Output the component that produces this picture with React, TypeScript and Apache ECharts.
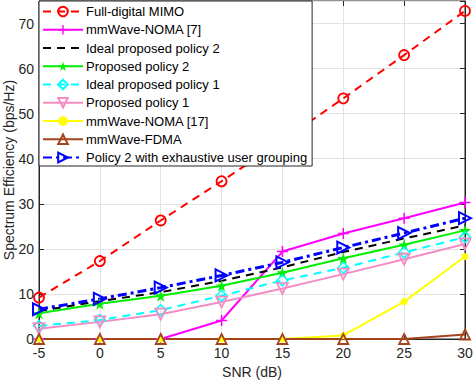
import React, { useEffect, useRef } from "react";
import * as echarts from "echarts";

const snr = [-5, 0, 5, 10, 15, 20, 25, 30];
const fullDigital = [9.2, 17.3, 26.3, 35.0, 44.0, 53.4, 63.0, 72.8];
const noma7 = [0, 0, 0, 4.1, 19.4, 23.4, 26.8, 30.3];
const idealP2 = [6.2, 8.4, 10.4, 12.9, 15.9, 19.3, 22.3, 25.2];
const propP2 = [5.7, 7.8, 9.6, 11.8, 14.7, 17.9, 20.9, 24.1];
const idealP1 = [2.9, 4.2, 6.4, 9.6, 13.0, 15.8, 19.2, 22.6];
const propP1 = [2.3, 3.8, 5.5, 8.2, 11.2, 14.4, 17.7, 21.1];
const noma17 = [0, 0, 0, 0, 0, 0.8, 8.3, 18.3];
const fdma = [0, 0, 0, 0, 0, 0, 0, 1.0];
const exhaustive = [6.6, 8.9, 11.4, 14.1, 17.0, 20.3, 23.5, 26.8];

const names = [
  "Full-digital MIMO",
  "mmWave-NOMA [7]",
  "Ideal proposed policy 2",
  "Proposed policy 2",
  "Ideal proposed policy 1",
  "Proposed policy 1",
  "mmWave-NOMA [17]",
  "mmWave-FDMA",
  "Policy 2 with exhaustive user grouping",
];

const STAR =
  "path://M50,0 L61,35 L98,35 L68,57 L79,91 L50,70 L21,91 L32,57 L2,35 L39,35 Z";
const PLUS = "path://M4.3,0 H5.7 V4.3 H10 V5.7 H5.7 V10 H4.3 V5.7 H0 V4.3 H4.3 Z";

export default function App() {
  const ref = useRef<HTMLDivElement>(null);
  useEffect(() => {
    if (!ref.current) return;
    const chart = echarts.init(ref.current, null, { renderer: "svg" });
    const pts = (arr: number[]) => snr.map((x, i) => [x, arr[i]]);
    const hollow = (c: string, w = 1.5) => ({
      color: "rgba(255,255,255,0)",
      borderColor: c,
      borderWidth: w,
    });
    const mk = (
      name: string,
      data: number[],
      color: string,
      lineType: any,
      symbol: string,
      symbolSize: number,
      itemStyle: any,
      extra: any = {}
    ) => ({
      name,
      type: "line",
      data: pts(data),
      symbol,
      symbolSize,
      lineStyle: { color, width: 2, type: lineType },
      itemStyle,
      z: 2,
      ...extra,
    });
    const series = [
      mk(names[0], fullDigital, "#ff0000", [8, 6], "circle", 10, hollow("#ff0000", 1.8)),
      mk(names[1], noma7, "#ff00ff", "solid", PLUS, 11, { color: "#ff00ff" }),
      mk(names[2], idealP2, "#000000", [8, 6], "circle", 1, {
        color: "rgba(0,0,0,0)",
        borderColor: "rgba(0,0,0,0)",
        borderWidth: 0,
      }, { showSymbol: false }),
      mk(names[3], propP2, "#00ee00", "solid", STAR, 12, { color: "#00ee00" }),
      mk(names[4], idealP1, "#00ffff", [8, 6], "diamond", 11, hollow("#00ffff", 1.5)),
      mk(names[5], propP1, "#f38dc4", "solid", "triangle", 11, hollow("#f38dc4", 1.8), {
        symbolRotate: 180,
      }),
      mk(names[6], noma17, "#ffff00", "solid", "circle", 7, { color: "#ffff00" }),
      mk(names[7], fdma, "#a5441c", "solid", "triangle", 10, {
        color: "rgba(255,255,255,0)",
        borderColor: "#a5441c",
        borderWidth: 1.8,
      }),
      mk(names[8], exhaustive, "#0000ff", [9, 4, 3, 4], "triangle", 12, hollow("#0000ff", 2), {
        symbolRotate: -90,
        lineStyle: { color: "#0000ff", width: 3, type: [9, 4, 3, 4] },
      }),
    ];
    const axisColor = "#262626";
    const font = "'Liberation Sans', Arial, Helvetica, sans-serif";
    const yBase = { type: "value", min: 0, max: 75, interval: 10 };
    chart.setOption({
      animation: false,
      textStyle: { fontFamily: font },
      grid: {
        left: 39,
        right: 9,
        top: 1,
        bottom: 41,
        containLabel: false,
        outerBoundsMode: "none",
        show: true,
        borderColor: axisColor,
        borderWidth: 1,
        backgroundColor: "#fff",
      },
      legend: {
        data: names,
        orient: "vertical",
        left: 39,
        top: 1,
        z: 3,
        itemWidth: 40,
        itemHeight: 12,
        itemGap: 5.25,
        padding: [4, 5, 2, 3],
        backgroundColor: "#fff",
        borderColor: axisColor,
        borderWidth: 1,
        textStyle: { fontSize: 13, color: "#000", fontFamily: font, padding: [0, 0, 0, -2] },
        selectedMode: false,
      },
      xAxis: [
        {
          type: "value",
          min: -5,
          max: 30,
          interval: 5,
          name: "SNR (dB)",
          nameLocation: "middle",
          nameGap: 26,
          nameMoveOverlap: false,
          nameTextStyle: { fontSize: 14, color: axisColor },
          axisLine: { onZero: false, lineStyle: { color: axisColor } },
          axisTick: { inside: true, length: 5, lineStyle: { color: axisColor } },
          axisLabel: { fontSize: 14, color: axisColor, margin: 7 },
          splitLine: { show: true, lineStyle: { color: "#e3e3e3", width: 1 } },
        },
        {
          type: "value",
          position: "top",
          min: -5,
          max: 30,
          interval: 5,
          axisLine: { show: false, onZero: false },
          axisTick: { inside: true, length: 5, lineStyle: { color: axisColor } },
          axisLabel: { show: false },
          splitLine: { show: false },
        },
      ],
      yAxis: [
        {
          ...yBase,
          position: "left",
          axisLine: { show: true, onZero: false, lineStyle: { color: axisColor } },
          axisTick: { inside: true, length: 5, lineStyle: { color: axisColor } },
          axisLabel: { show: false },
          splitLine: { show: true, lineStyle: { color: "#e3e3e3", width: 1 } },
        },
        {
          ...yBase,
          position: "right",
          axisLine: { show: true, onZero: false, lineStyle: { color: axisColor } },
          axisTick: { inside: true, length: 5, lineStyle: { color: axisColor } },
          axisLabel: { show: false },
          splitLine: { show: false },
        },
        {
          ...yBase,
          position: "left",
          z: 10,
          name: "Spectrum Efficiency (bps/Hz)",
          nameLocation: "middle",
          nameGap: 23,
          nameMoveOverlap: false,
          nameTextStyle: { fontSize: 14, color: axisColor },
          axisLine: { show: false, onZero: false },
          axisTick: { show: false },
          axisLabel: {
            fontSize: 14,
            color: axisColor,
            margin: 5,
            formatter: (v: number) => (v % 10 === 0 ? String(v) : ""),
          },
          splitLine: { show: false },
        },
      ],
      series,
    });
    return () => chart.dispose();
  }, []);
  return <div ref={ref} style={{ width: 474, height: 380, position: "absolute", left: 0, top: 0 }} />;
}
